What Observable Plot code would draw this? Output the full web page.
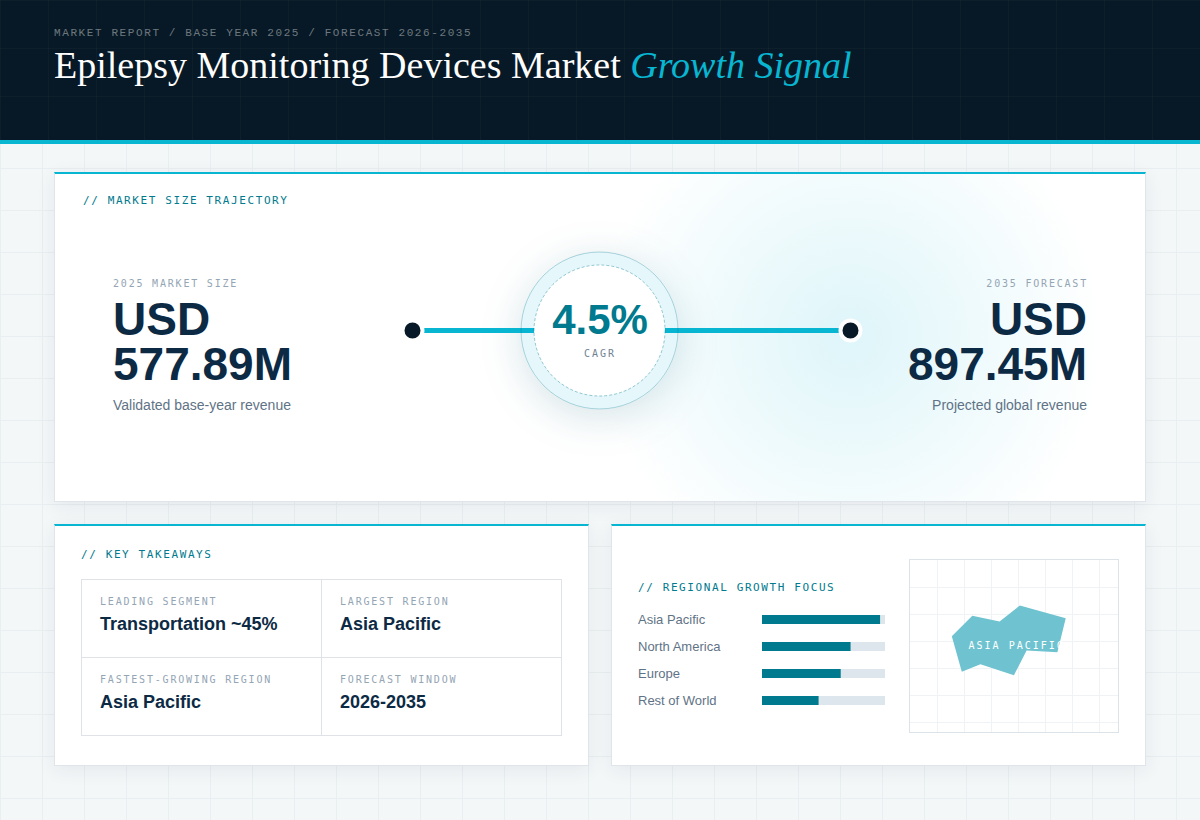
<!DOCTYPE html>
<html lang="en">
<head>
<meta charset="utf-8">
<title>Epilepsy Monitoring Devices Market Growth Signal</title>
<script src="https://cdn.jsdelivr.net/npm/d3@7"></script>
<script src="https://cdn.jsdelivr.net/npm/@observablehq/plot@0.6"></script>
<style>
*{box-sizing:border-box}
html,body{margin:0;padding:0}
body{width:1200px;height:820px;position:relative;overflow:hidden;font-family:"Liberation Sans",Arial,sans-serif;
 background-color:#f4f7f8;
 background-image:linear-gradient(#e9eef0 1px,transparent 1px),linear-gradient(90deg,#e9eef0 1px,transparent 1px);
 background-size:42px 42px}
.abs{position:absolute;white-space:nowrap}
.mono{font-family:"DejaVu Sans Mono",monospace;font-size:10px;line-height:12px}
header{position:absolute;left:0;top:0;width:1200px;height:144px;border-bottom:4px solid #08b6d2;
 background-color:#071926;
 background-image:linear-gradient(rgba(255,255,255,.028) 1px,transparent 1px),linear-gradient(90deg,rgba(255,255,255,.028) 1px,transparent 1px);
 background-size:48px 48px}
#eyebrow{left:54px;top:27px;letter-spacing:.22em;color:rgba(255,255,255,.42);font-family:"Liberation Mono",monospace;font-size:11px;letter-spacing:1.6px}
#title{left:54px;top:43px;font-family:"Liberation Serif",serif;font-size:38px;line-height:44px;color:#fff;font-weight:400}
#title em{color:#08b6d2;font-style:italic}
.card{position:absolute;background:#fff;border:1px solid #dfe5ea;border-top:2px solid #08b6d2;box-shadow:0 4px 18px rgba(13,42,69,.07)}
#c1{left:54px;top:172px;width:1092px;height:330px;
 background:radial-gradient(circle 255px at 795px 163px,rgba(0,180,212,.13),rgba(0,180,212,0) 100%),#fff}
#c2{left:54px;top:524px;width:535px;height:242px}
#c3{left:611px;top:524px;width:535px;height:242px}
.sec{letter-spacing:1.6px;color:#007a8e;font-size:11px}
.lab{letter-spacing:.18em;color:#94a5b4}
.big{font-weight:700;font-size:46px;line-height:45px;color:#0d2a45;letter-spacing:0}
.sub{font-size:14px;line-height:18px;color:#5f7386}
.val{font-weight:700;font-size:18px;line-height:22px;color:#0d2a45}
#grid{position:absolute;left:81px;top:579px;width:481px;height:157px;border:1px solid #dfe3e7}
#grid i{position:absolute;background:#dfe3e7;display:block}
#plot1,#plot2,#plot3{position:absolute}
svg{overflow:visible}
#mapbox{position:absolute;left:909px;top:559px;width:210px;height:174px;border:1px solid #dde4e9;background:#fff}
</style>
</head>
<body>
<header></header>
<div class="abs mono" id="eyebrow">MARKET REPORT / BASE YEAR 2025 / FORECAST 2026-2035</div>
<h1 class="abs" id="title" style="margin:0">Epilepsy Monitoring Devices Market <em>Growth Signal</em></h1>

<div class="card" id="c1"></div>
<div class="card" id="c2"></div>
<div class="card" id="c3"></div>
<div id="plot1"></div>

<div class="abs mono sec" style="left:83px;top:195px">// MARKET SIZE TRAJECTORY</div>
<div class="abs mono lab" style="left:113px;top:278px">2025 MARKET SIZE</div>
<div class="abs big" style="left:113px;top:297px">USD<br>577.89M</div>
<div class="abs sub" style="left:113px;top:396px">Validated base-year revenue</div>
<div class="abs mono lab" style="right:112px;top:278px;text-align:right">2035 FORECAST</div>
<div class="abs big" style="right:113px;top:297px;text-align:right">USD<br>897.45M</div>
<div class="abs sub" style="right:113px;top:396px;text-align:right">Projected global revenue</div>
<div class="abs" style="left:500px;width:200px;top:296px;text-align:center;font-weight:700;font-size:42px;line-height:48px;color:#007a8e">4.5%</div>
<div class="abs mono" style="left:500px;width:200px;top:348px;text-align:center;letter-spacing:.2em;color:#6f8292">CAGR</div>

<div class="abs mono sec" style="left:81px;top:549px">// KEY TAKEAWAYS</div>
<div id="grid"><i style="left:239px;top:0;width:1px;height:155px"></i><i style="left:0;top:77px;width:479px;height:1px"></i></div>
<div id="cells"></div>

<div class="abs mono sec" style="left:638px;top:582px">// REGIONAL GROWTH FOCUS</div>
<div id="plot2"></div>
<div id="mapbox"></div>
<div id="plot3"></div>

<script>
// Market size trajectory
const years = [2025, 2035];
const cagrYear = 2029.27;
// Key takeaways
const takeawayLabels = ["LEADING SEGMENT", "LARGEST REGION", "FASTEST-GROWING REGION", "FORECAST WINDOW"];
const takeawayValues = ["Transportation ~45%", "Asia Pacific", "Asia Pacific", "2026-2035"];
// Regional growth focus
const regions = ["Asia Pacific", "North America", "Europe", "Rest of World"];
const regionScores = [96, 72, 64, 46];
// Map shape, in map grid cells
const mapColumns = [1, 2, 3, 4, 5, 6, 7];
const mapRows = [1, 2, 3, 4, 5, 6];
const shapeX = [2.29, 3.30, 4.05, 5.75, 5.44, 4.30, 3.83, 2.59, 1.90, 1.53];
const shapeY = [2.05, 2.26, 1.67, 2.14, 3.40, 3.33, 4.25, 3.84, 4.12, 2.81];

const navy = "#071926", cyan = "#08b6d2", teal = "#007a8e", slate = "#5f7386";

// Trajectory
const traj = Plot.plot({
  width: 1090, height: 312, marginLeft: 357, marginRight: 295, marginTop: 0, marginBottom: 0,
  style: {background: "transparent"},
  x: {domain: [2025, 2035], axis: null},
  y: {domain: [-1, 1], axis: null},
  marks: [
    Plot.dot([cagrYear], {x: d => d, y: 0, r: 79, fill: "#fff", stroke: "none",
      imageFilter: "drop-shadow(0 8px 20px rgba(0,90,110,.16))"}),
    Plot.line(years, {x: d => d, y: 0, stroke: cyan, strokeWidth: 5, strokeLinecap: "butt"}),
    Plot.dot([cagrYear], {x: d => d, y: 0, r: 78.5, fill: "rgba(0,180,212,.1)", stroke: "rgba(0,122,142,.32)", strokeWidth: 1}),
    Plot.dot([cagrYear], {x: d => d, y: 0, r: 65.5, fill: "#fff", stroke: "rgba(0,122,142,.4)", strokeWidth: 1, strokeDasharray: "3 2"}),
    Plot.dot(years, {x: d => d, y: 0, r: 10, fill: navy, stroke: "#fff", strokeWidth: 4})
  ]
});
const p1 = document.getElementById("plot1");
p1.style.left = "54.5px"; p1.style.top = "174px";
p1.append(traj);

// Takeaway cells
const cells = document.getElementById("cells");
const cellX = [100, 340], cellY = [596, 674];
takeawayLabels.forEach((t, i) => {
  const l = cellX[i % 2], tp = cellY[i >> 1];
  const a = document.createElement("div");
  a.className = "abs mono lab"; a.style.left = l + "px"; a.style.top = tp + "px"; a.textContent = t;
  const b = document.createElement("div");
  b.className = "abs val"; b.style.left = l + "px"; b.style.top = (tp + 17) + "px"; b.textContent = takeawayValues[i];
  cells.append(a, b);
});

// Regional bars
const rows = regions.map((name, i) => ({name, score: regionScores[i]}));
const bars = Plot.plot({
  width: 247, height: 108, marginLeft: 124, marginRight: 0, marginTop: 0, marginBottom: 0,
  style: {background: "transparent"},
  x: {domain: [0, 100], axis: null},
  y: {domain: regions, axis: null, paddingInner: 2 / 3, paddingOuter: 1 / 3},
  marks: [
    Plot.barX(rows, {x: () => 100, y: "name", fill: "#dde6ec"}),
    Plot.barX(rows, {x: "score", y: "name", fill: teal}),
    Plot.text(rows, {y: "name", text: "name", frameAnchor: "left", textAnchor: "start", dx: -124.5,
      fontSize: 13, fontFamily: "Liberation Sans", fill: slate})
  ]
});
const p2 = document.getElementById("plot2");
p2.style.left = "638px"; p2.style.top = "606px";
p2.append(bars);

// Map
const shape = shapeX.map((x, i) => ({x, y: shapeY[i]}));
const map = Plot.plot({
  width: 208, height: 172, margin: 0,
  style: {background: "transparent"},
  x: {domain: [0, 208 / 27], axis: null},
  y: {domain: [172 / 27, 0], axis: null},
  marks: [
    Plot.ruleX(mapColumns, {stroke: "#f0f3f5", strokeWidth: 1}),
    Plot.ruleY(mapRows, {stroke: "#f0f3f5", strokeWidth: 1}),
    Plot.line(shape.concat(shape[0]), {x: "x", y: "y", fill: "#6fc3d0", stroke: "none", curve: "linear"}),
    Plot.text(["ASIA PACIFIC"], {x: 2.15, y: 3.15, text: d => d, textAnchor: "start", fill: "#fff",
      fontSize: 10, fontFamily: "DejaVu Sans Mono"})
  ]
});
const p3 = document.getElementById("plot3");
p3.style.left = "910px"; p3.style.top = "560px";
p3.append(map);
map.querySelectorAll("text").forEach(t => t.style.letterSpacing = "0.2em");
</script>
</body>
</html>
